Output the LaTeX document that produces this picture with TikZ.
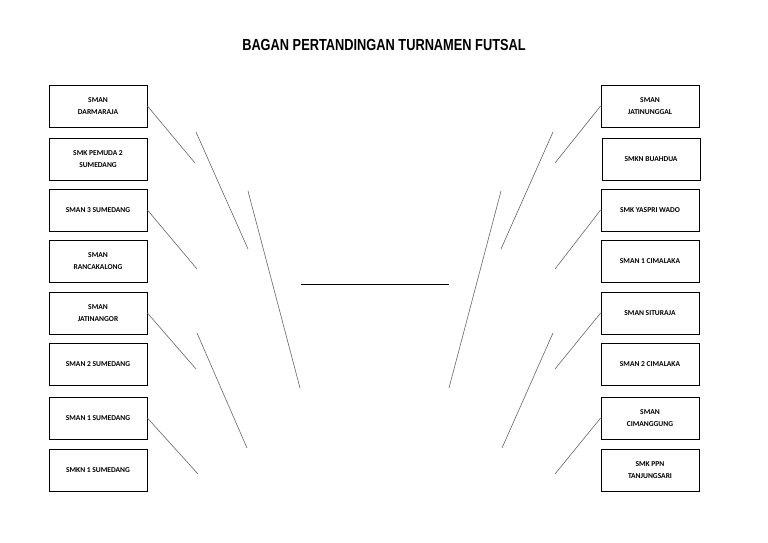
\documentclass[tikz,border=0pt]{standalone}
\usepackage{fontspec}
\setmainfont{Carlito}
\newfontfamily\titlefont{Liberation Sans}

\begin{document}
\begin{tikzpicture}[
  x=1pt, y=-1pt,
  team/.style={draw, thick, minimum width=98pt, minimum height=42pt, align=center,
    font=\fontsize{7.5}{12}\selectfont\bfseries, inner sep=1pt},
  bline/.style={draw=gray!80!black, line width=0.6pt},
]

\useasboundingbox (0,0) rectangle (768,543);
\node [font=\titlefont\bfseries\fontsize{16}{18}\selectfont, xscale=0.8] (judul) at (384,45) {BAGAN PERTANDINGAN TURNAMEN FUTSAL};

% kiri
\node [team] (k1) at (98,106) {SMAN\\DARMARAJA};
\node [team] (k2) at (98,159) {SMK PEMUDA 2\\SUMEDANG};
\node [team] (k3) at (98,210) {SMAN 3 SUMEDANG};
\node [team] (k4) at (98,261) {SMAN\\RANCAKALONG};
\node [team] (k5) at (98,313) {SMAN\\JATINANGOR};
\node [team] (k6) at (98,364) {SMAN 2 SUMEDANG};
\node [team] (k7) at (98,418) {SMAN 1 SUMEDANG};
\node [team] (k8) at (98,470) {SMKN 1 SUMEDANG};

% kanan
\node [team] (n1) at (650,106) {SMAN\\JATINUNGGAL};
\node [team] (n2) at (651,159) {SMKN BUAHDUA};
\node [team] (n3) at (650,210) {SMK YASPRI WADO};
\node [team] (n4) at (650,261) {SMAN 1 CIMALAKA};
\node [team] (n5) at (650,313) {SMAN SITURAJA};
\node [team] (n6) at (650,364) {SMAN 2 CIMALAKA};
\node [team] (n7) at (650,418) {SMAN\\CIMANGGUNG};
\node [team] (n8) at (650,470) {SMK PPN\\TANJUNGSARI};

% garis babak
\coordinate (ka) at (195,163);
\coordinate (kb) at (197,269);
\coordinate (kc) at (196,369);
\coordinate (kd) at (198,474);
\draw [bline] (k1.east) -- (ka);
\draw [bline] (k3.east) -- (kb);
\draw [bline] (k5.east) -- (kc);
\draw [bline] (k7.east) -- (kd);
\draw [bline] (196,132) -- (248,249);
\draw [bline] (197,333) -- (247,448);
\draw [bline] (248,191) -- (300,388);

\coordinate (na) at (555,163);
\coordinate (nb) at (555,269);
\coordinate (nc) at (555,369);
\coordinate (nd) at (555,474);
\draw [bline] (n1.west) -- (na);
\draw [bline] (n3.west) -- (nb);
\draw [bline] (n5.west) -- (nc);
\draw [bline] (n7.west) -- (nd);
\draw [bline] (553,132) -- (501,249);
\draw [bline] (553,333) -- (502,448);
\draw [bline] (501,191) -- (449,388);

\draw [thick] (301,284) -- (449,284);

\end{tikzpicture}
\end{document}
